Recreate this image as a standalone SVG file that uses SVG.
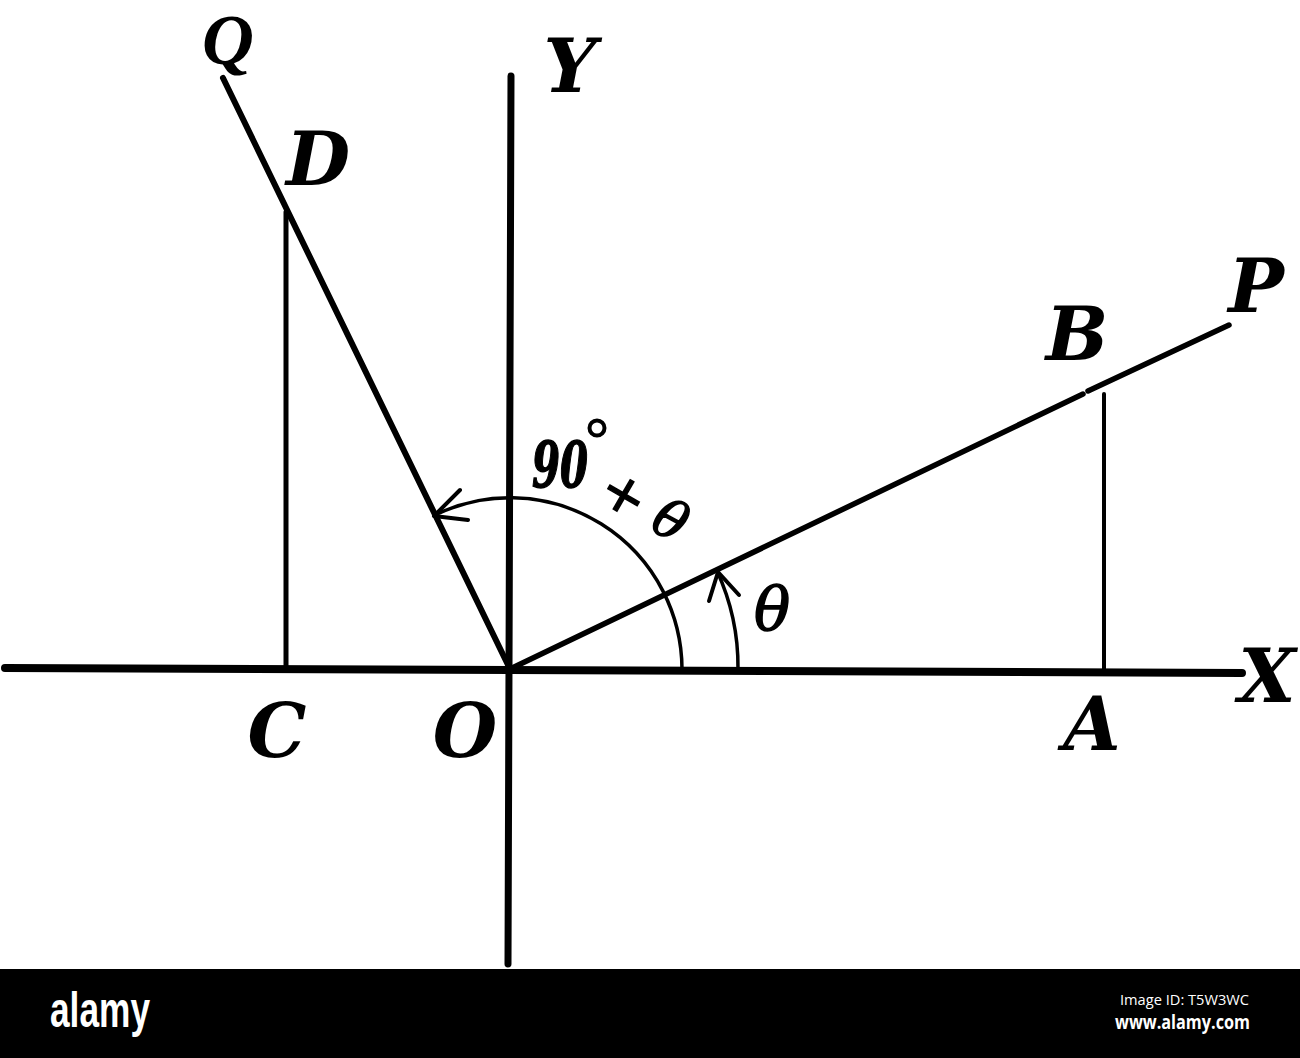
<svg xmlns="http://www.w3.org/2000/svg" width="1300" height="1058" viewBox="0 0 1300 1058">
<style>
.ln{stroke:#000;fill:none;stroke-linecap:round;stroke-linejoin:round}
.lbl{font-family:"DejaVu Serif","Liberation Serif",serif;font-weight:bold;font-style:italic;font-size:74px;fill:#000;text-anchor:middle}
.ang{font-family:"DejaVu Serif","Liberation Serif",serif;font-style:italic;fill:#000;stroke:#000;stroke-width:1.5;text-anchor:middle}
</style>
<rect x="0" y="0" width="1300" height="1058" fill="#fff"/>
<g id="connectors">
  <line id="x-axis" class="ln" x1="5" y1="668" x2="1242" y2="673" stroke-width="8"/>
  <line id="y-axis" class="ln" x1="511" y1="76" x2="508" y2="964" stroke-width="7"/>
  <line id="OQ" class="ln" x1="223" y1="78" x2="510" y2="669" stroke-width="6"/>
  <path id="OP1" class="ln" d="M510 669 L1083 394" stroke-width="5.5"/>
  <path id="OP2" class="ln" d="M1088 391 L1229 325" stroke-width="5.5"/>
  <line id="DC" class="ln" x1="286" y1="212" x2="286" y2="668" stroke-width="5"/>
  <line id="BA" class="ln" x1="1104" y1="394" x2="1104" y2="671" stroke-width="4"/>
  <path id="arc-big" class="ln" d="M682 669 A172 172 0 0 0 435 515" stroke-width="3.5"/>
  <path id="arrow-big" class="ln" d="M460 490 L434 516 L468 520" stroke-width="4"/>
  <path id="arc-small" class="ln" d="M738 669 A228 228 0 0 0 717 571" stroke-width="3.5"/>
  <path id="arrow-small" class="ln" d="M709 601 L718 572 L739 595" stroke-width="4"/>
</g>
<g id="labels">
  <g id="Q"><text class="lbl" x="228" y="64" style="font-family:'Liberation Serif',serif;font-size:72px">Q</text></g>
  <g id="Y"><text class="lbl" x="570" y="92" font-size="78">Y</text></g>
  <g id="D"><text class="lbl" x="318" y="185">D</text></g>
  <g id="P"><text class="lbl" x="1256" y="312">P</text></g>
  <g id="B"><text class="lbl" x="1077" y="360">B</text></g>
  <g id="X"><text class="lbl" x="1267" y="702" font-size="78">X</text></g>
  <g id="A"><text class="lbl" x="1092" y="750">A</text></g>
  <g id="C"><text class="lbl" x="277" y="757">C</text></g>
  <g id="O"><text class="lbl" x="465" y="757">O</text></g>
  <g id="angle-big">
    <text class="ang" x="560" y="487" font-size="64" font-weight="bold" textLength="56" lengthAdjust="spacingAndGlyphs">90</text>
    <circle cx="597" cy="428" r="7.5" fill="none" stroke="#000" stroke-width="4"/>
    <text class="ang" transform="translate(615,510) rotate(30)" font-size="54">+</text>
    <text class="ang" transform="translate(662,536) rotate(28)" font-size="52" stroke-width="2.5">θ</text>
  </g>
  <g id="angle-small"><text class="ang" x="772" y="630" font-size="60">θ</text></g>
</g>
<g id="watermark">
  <rect x="0" y="969" width="1300" height="89" fill="#000"/>
  <text x="50" y="1027" font-family="Liberation Sans, sans-serif" font-weight="bold" font-size="50" fill="#fff" textLength="100" lengthAdjust="spacingAndGlyphs">alamy</text>
  <text x="1120" y="1005" font-family="Open Sans, sans-serif" font-size="15" fill="#fff" textLength="129" lengthAdjust="spacingAndGlyphs">Image ID: T5W3WC</text>
  <text x="1115" y="1029" font-family="Open Sans, sans-serif" font-weight="bold" font-size="19" fill="#fff" textLength="135" lengthAdjust="spacingAndGlyphs">www.alamy.com</text>
</g>
</svg>
